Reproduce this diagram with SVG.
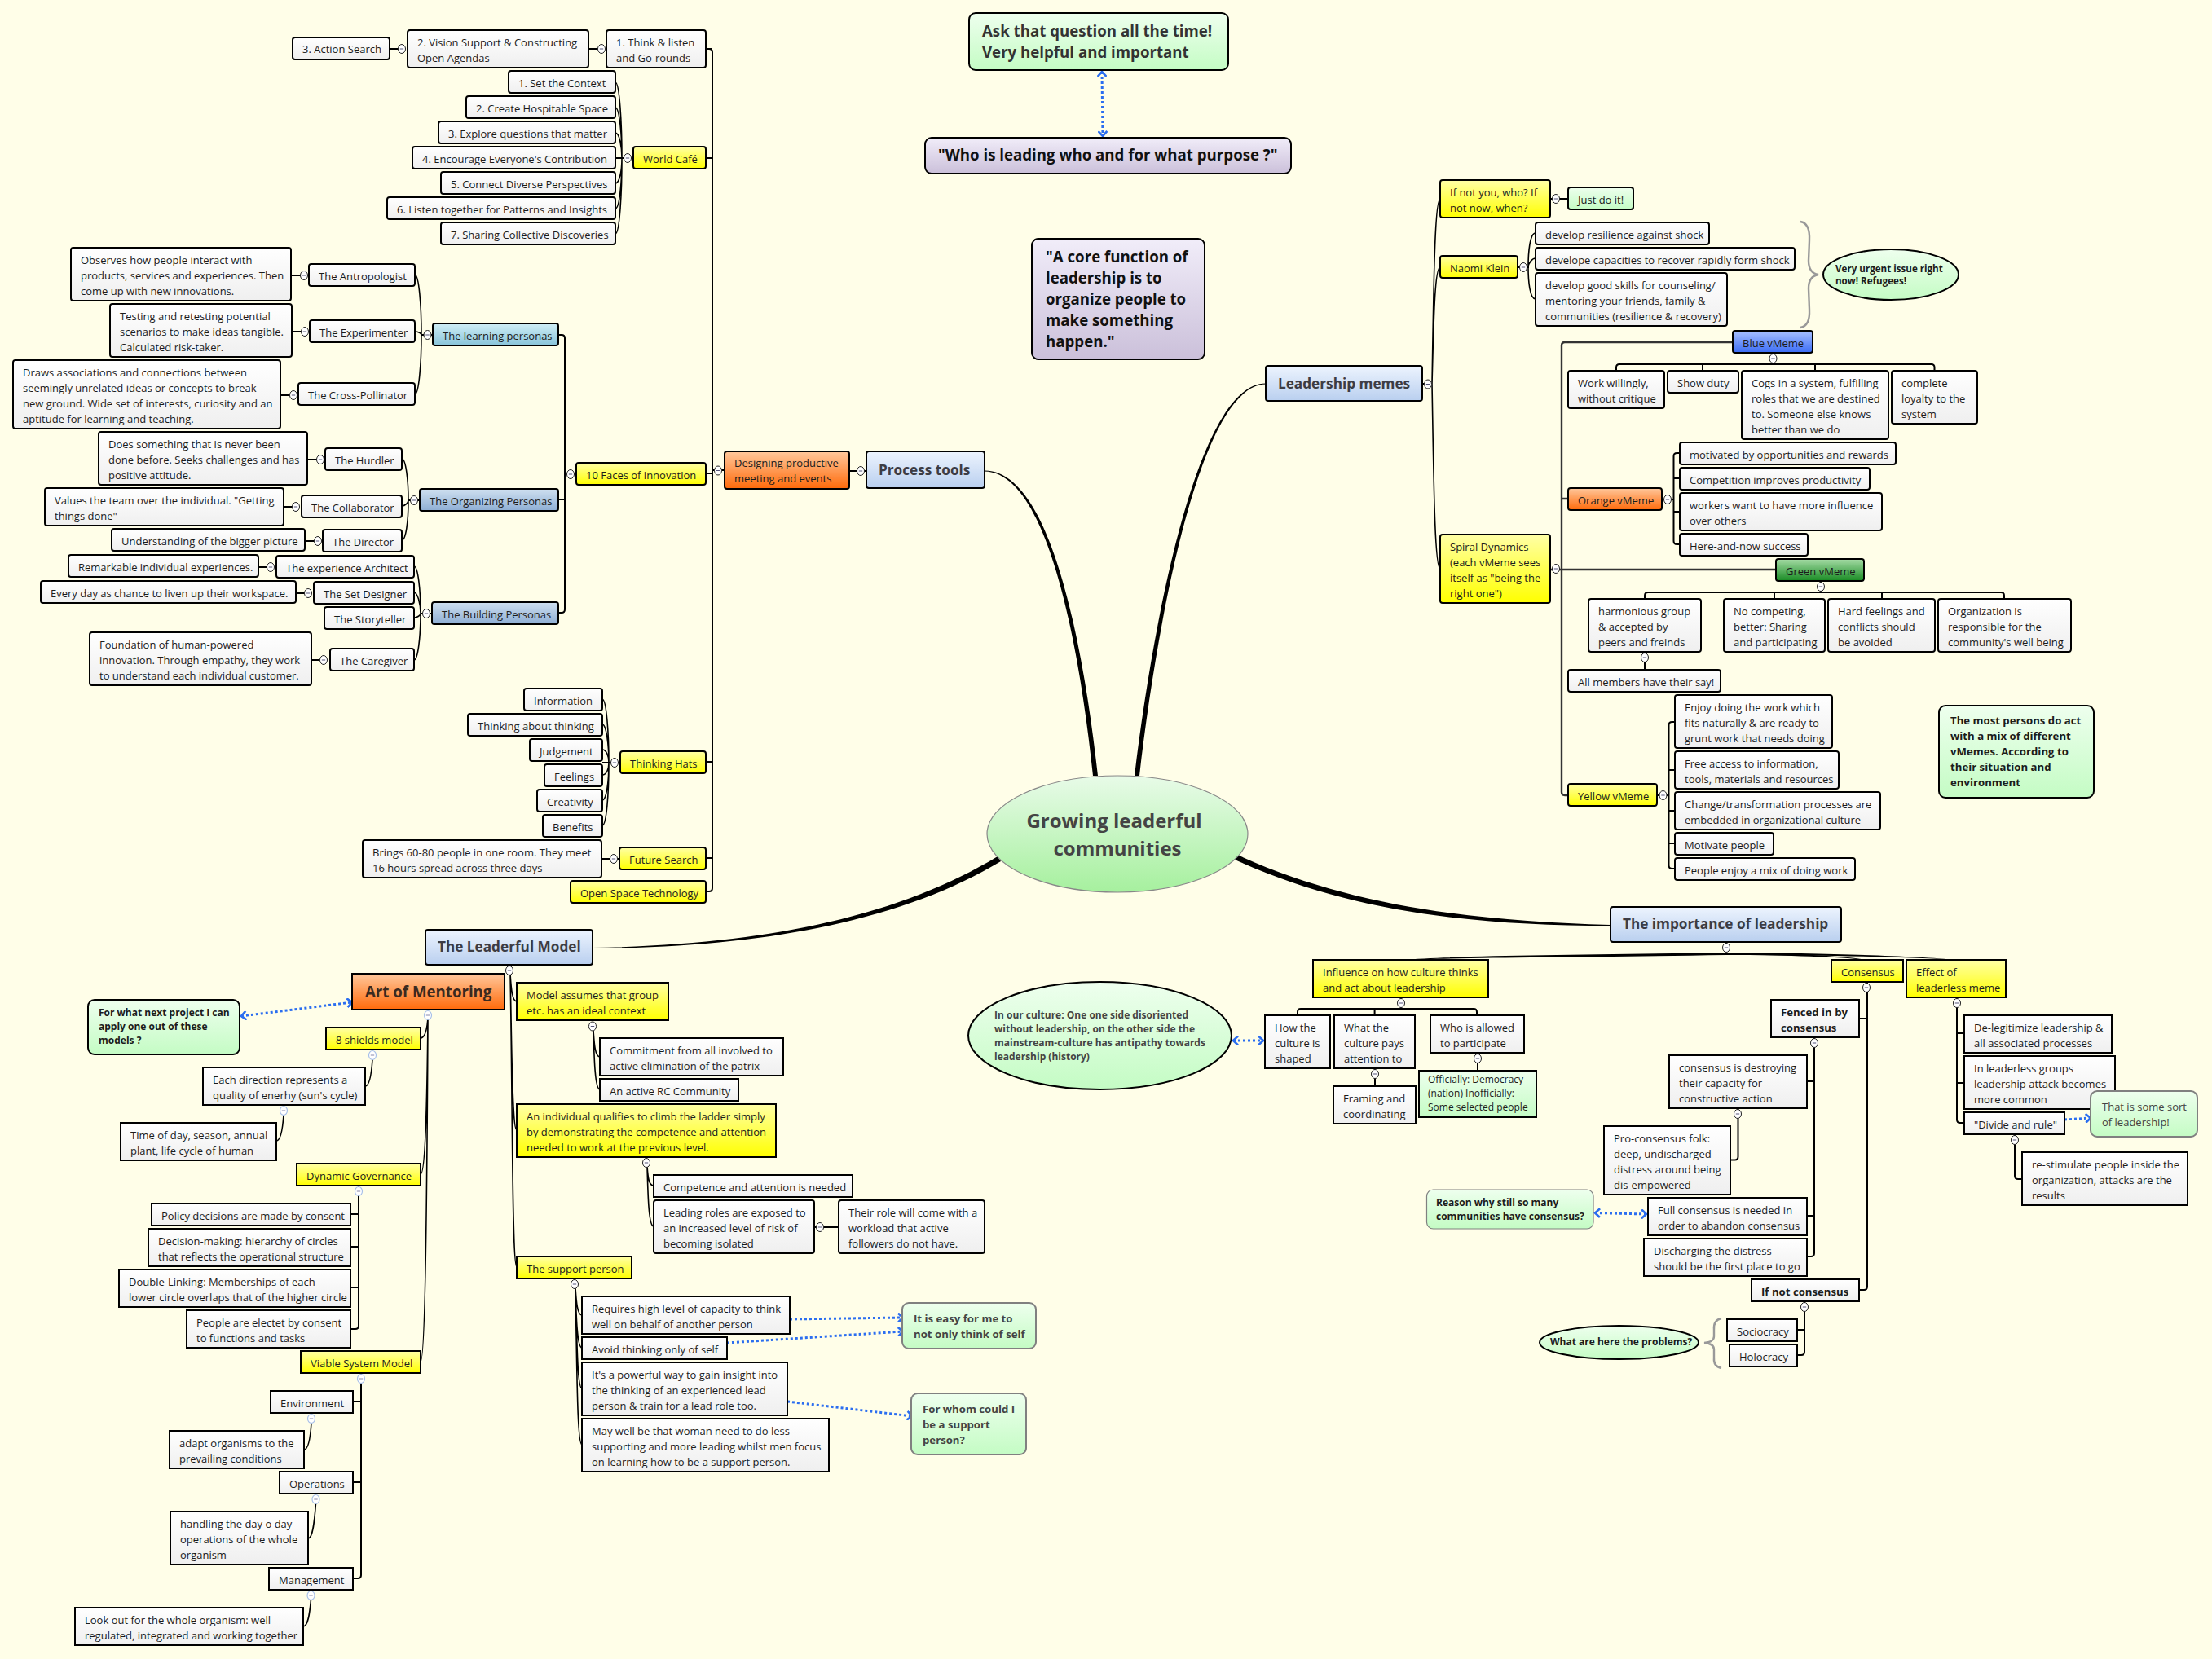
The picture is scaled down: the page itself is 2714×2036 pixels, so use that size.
<svg xmlns="http://www.w3.org/2000/svg" width="2714" height="2036" viewBox="0 0 2714 2036">
<style>
text{font-family:"Open Sans","Noto Sans",sans-serif;font-size:13px;fill:#1c1c1c;transform:translateY(-0.7px)}
.b{font-weight:700;font-size:13.2px}
.big{font-size:17.2px;font-weight:700;fill:#3c3c44}
.q{font-size:18.67px;font-weight:700;fill:#111}
.t12{font-size:12px}
.t11{font-size:11.6px}
.g5{fill:#444}
rect{stroke:#000;stroke-width:2;rx:3px}
rect.s{rx:0}
.gr{fill:url(#gr)}.ye{fill:url(#ye)}.or{fill:url(#or)}.bl{fill:url(#bl)}.le{fill:url(#le)}.og{fill:url(#og)}.gn{fill:url(#gn)}.pu{fill:url(#pu)}.vb{fill:url(#vb)}.vg{fill:url(#vg)}
.thin{stroke:#808080;stroke-width:1.2;rx:8px}.mid{stroke:#808080;stroke-width:2;rx:8px}.r8{rx:8px}
.c{fill:none;stroke:#000;stroke-width:1.6}
.e{fill:none;stroke:#000;stroke-width:2}
.h{fill:none;stroke:#333;stroke-width:2.4}
.f{fill:#000;stroke:none}
.d{fill:none;stroke:#2b6ef0;stroke-width:3;stroke-dasharray:3 3}
.br{fill:none;stroke:#999;stroke-width:2.4}
</style>
<defs>
<linearGradient id="gr" x1="0" y1="0" x2="0" y2="1"><stop offset="0" stop-color="#ffffff"/><stop offset="1" stop-color="#efefef"/></linearGradient>
<linearGradient id="ye" x1="0" y1="0" x2="0" y2="1"><stop offset="0" stop-color="#ffffa6"/><stop offset="1" stop-color="#ffff00"/></linearGradient>
<linearGradient id="or" x1="0" y1="0" x2="0" y2="1"><stop offset="0" stop-color="#ffc89c"/><stop offset="1" stop-color="#ff6a0a"/></linearGradient>
<linearGradient id="bl" x1="0" y1="0" x2="0" y2="1"><stop offset="0" stop-color="#edf4fe"/><stop offset="1" stop-color="#b9cfef"/></linearGradient>
<linearGradient id="le" x1="0" y1="0" x2="0" y2="1"><stop offset="0" stop-color="#d0eef6"/><stop offset="1" stop-color="#88c4da"/></linearGradient>
<linearGradient id="og" x1="0" y1="0" x2="0" y2="1"><stop offset="0" stop-color="#cfe0f0"/><stop offset="1" stop-color="#8eaed4"/></linearGradient>
<linearGradient id="gn" x1="0" y1="0" x2="0" y2="1"><stop offset="0" stop-color="#eeffee"/><stop offset="1" stop-color="#c4fcc4"/></linearGradient>
<linearGradient id="pu" x1="0" y1="0" x2="0" y2="1"><stop offset="0" stop-color="#f1edf9"/><stop offset="1" stop-color="#cbc0da"/></linearGradient>
<linearGradient id="vb" x1="0" y1="0" x2="0" y2="1"><stop offset="0" stop-color="#a8c0ff"/><stop offset="1" stop-color="#3a6cf5"/></linearGradient>
<linearGradient id="vg" x1="0" y1="0" x2="0" y2="1"><stop offset="0" stop-color="#a6dca6"/><stop offset="1" stop-color="#178a22"/></linearGradient>
<linearGradient id="ce" x1="0" y1="0" x2="0" y2="1"><stop offset="0" stop-color="#e8fbe8"/><stop offset="1" stop-color="#a6f09e"/></linearGradient>
<marker id="a" viewBox="0 0 8 10" refX="6" refY="5" markerWidth="9.6" markerHeight="12" markerUnits="userSpaceOnUse" orient="auto-start-reverse"><path d="M1 0.5L6 5L1 9.5" fill="none" stroke="#2b6ef0" stroke-width="2.2"/></marker>
<g id="k"><ellipse rx="4.5" ry="5.5" fill="#fff" stroke="#222" stroke-width="1"/><path d="M-2.2 0H2.2" stroke="#557" stroke-width="1"/></g>
<g id="k2"><ellipse rx="4.5" ry="5.5" fill="#fff" stroke="#a8c0e8" stroke-width="1.2"/><path d="M-2.2 0H2.2" stroke="#88a" stroke-width="1"/></g>
</defs>
<rect x="-2" y="-2" width="2718" height="2040" style="fill:#fffee8;stroke:none;rx:0"/>

<g id="connectors">
<!-- central -->
<path class="f" d="M1208 578.500C1287 579.500 1325 800 1341 952L1347 952C1330 800 1291 577 1208 577.500Z"/>
<path class="f" d="M1553 470.500C1470 470 1415 760 1392 952L1398 952C1420 760 1473 472 1553 471.500Z"/>
<path class="f" d="M727 1163C950 1160 1110 1120 1224 1051L1228 1057C1115 1125 950 1163 727 1164Z"/>
<path class="f" d="M1976 1135C1800 1130 1650 1110 1516 1048L1513 1054C1650 1117 1800 1136 1976 1136Z"/>
<!-- process tools -->
<path class="e" d="M1042 578H1063M889 577H874M478 60H493M722 60H738M874 60H866"/>
<path class="e" d="M866 60H870Q874 60 874 64V1090Q874 1094 870 1094H866M866 194H874M866 581H874M866 935H874M866 1053H874"/>
<path class="e" d="M755 194H777"/>
<path class="c" d="M755 101C760 101 763 150 763 194M755 132C760 132 763 165 763 194M755 163C760 163 763 180 763 194M755 194H763M755 225C760 225 763 210 763 194M755 256C760 256 763 225 763 194M755 287C760 287 763 240 763 194"/>
<path class="e" d="M357 338H373M358 407H374M344 485H360M377 564H393M348 622H363M374 664H390M317 696H332M363 728H378M382 810H397"/>
<path class="e" d="M517 411H531M501 614H515M516 753H530M685 411H689Q693 411 693 415V748Q693 752 689 752H685M685 613H693M693 582H707"/>
<path class="c" d="M509 337C514 337 517 375 517 411M509 407C513 407 517 409 517 411M509 484C514 484 517 445 517 411"/>
<path class="c" d="M493 563C498 563 501 590 501 614M493 621C497 621 501 617 501 614M493 663C498 663 501 640 501 614"/>
<path class="c" d="M508 695C513 695 516 725 516 753M508 727C512 727 516 740 516 753M508 758C512 758 516 755 516 753M508 810C513 810 516 780 516 753"/>
<path class="e" d="M739 936H761M738 1054H760"/>
<path class="c" d="M739 858C744 858 747 900 747 936M739 889C744 889 747 915 747 936M739 920C744 920 747 928 747 936M739 951C744 951 747 944 747 936M739 982C744 982 747 960 747 936M739 1013C744 1013 747 975 747 936"/>
<!-- leadership memes -->
<path class="e" d="M1745 471H1752"/>
<path class="c" d="M1767 244C1760 244 1759 360 1757 471M1767 328C1760 328 1759 400 1757 471M1767 698C1760 698 1759 580 1757 471"/>
<path class="e" d="M1902 244H1924M1862 328H1876"/>
<path class="c" d="M1884 286C1877 286 1875 310 1875 328M1884 317C1880 317 1875 323 1875 328M1884 367C1877 367 1875 345 1875 328"/>
<path class="h" d="M2126 420H1920Q1916 420 1916 424V972Q1916 976 1920 976H1924M1916 612H1924M1902 699H2179"/>
<path class="e" d="M2175.500 445V447M1983 454V451Q1983 447 1987 447H2369.500Q2373.500 447 2373.500 451V454M2089 454V447M2227 454V447"/>
<path class="e" d="M2039 613H2053.500M2061 556H2057.500Q2053.500 556 2053.500 560V664Q2053.500 668 2057.500 668H2061M2053.500 587H2061M2053.500 628H2061"/>
<path class="e" d="M2234 713V727M2018 734V731Q2018 727 2022 727H2455Q2459 727 2459 731V734M2177 734V727M2309 734V727"/>
<path class="e" d="M2018 800V822"/>
<path class="e" d="M2033 976H2047.500M2055 886H2051.500Q2047.500 886 2047.500 890V1062Q2047.500 1066 2051.500 1066H2055M2047.500 945H2055M2047.500 995H2055M2047.500 1035H2055"/>
<!-- importance -->
<path class="f" d="M2118 1169C1950 1172 1800 1172 1719 1178C1800 1175 1950 1175 2118 1172Z"/>
<path class="f" d="M2118 1169C2200 1170 2260 1173 2291 1178C2260 1175 2200 1172 2118 1172Z"/>
<path class="f" d="M2118 1169C2250 1170 2350 1173 2401 1178C2350 1175 2250 1172 2118 1172Z"/>
<path class="e" d="M2118 1156V1163M1719 1224V1231M1719 1231V1238M1592 1245V1242Q1592 1238 1596 1238H1808Q1812 1238 1812 1242V1245M1686.600 1245V1238M1687 1311V1333M1813 1292V1314"/>
<path class="e" d="M2291 1205V1579Q2291 1583 2287 1583H2281M2281 1250H2291"/>
<path class="e" d="M2226 1273V1538Q2226 1542 2222 1542H2217M2217 1327H2226M2217 1492H2226"/>
<path class="e" d="M2132.500 1360V1419.500Q2132.500 1423.500 2128.500 1423.500H2123"/>
<path class="e" d="M2214 1597V1659Q2214 1663 2210 1663H2205M2205 1632H2214"/>
<path class="e" d="M2401 1224V1374Q2401 1378 2405 1378H2410M2401 1268H2410M2401 1329H2410"/>
<path class="e" d="M2472 1392V1443Q2472 1447 2476 1447H2481"/>
<!-- leaderful -->
<path class="e" d="M625 1184V1191"/>
<path class="c" d="M634 1229C628 1229 627 1210 626 1195M634 1387C628 1387 628 1280 626 1195M634 1555C628 1555 629 1350 626 1195"/>
<path class="c" d="M736 1297C730 1297 729 1280 728 1264M736 1337C730 1337 729 1300 728 1264"/>
<path class="c" d="M802 1455C796 1455 795 1445 794 1431M802 1505C796 1505 795 1470 794 1431"/>
<path class="e" d="M999 1506H1029"/>
<path class="c" d="M714 1614C708 1614 707 1595 706 1580M714 1654C708 1654 707 1615 706 1580M714 1704C708 1704 708 1640 706 1580M714 1773C708 1773 708 1680 706 1580"/>
<!-- art of mentoring -->
<path class="c" d="M516 1274C522 1274 524 1262 525 1250M516 1441C522 1441 524 1350 525 1250M516 1671C522 1671 524 1450 525 1250"/>
<path class="c" d="M448 1333C454 1333 456 1315 457 1300M339 1400C345 1400 347 1383 348 1368"/>
<path class="e" d="M440 1455V1627Q440 1631 436 1631H430M430 1490H440M430 1530H440M430 1580H440"/>
<path class="e" d="M443 1685V1933Q443 1937 439 1937H433M433 1720H443M433 1819H443"/>
<path class="c" d="M373 1779C379 1779 381 1762 382 1746M378 1888C384 1888 386 1865 387.500 1845M372 1996C378 1996 380 1980 381.500 1963"/>
<!-- dotted -->
<path class="d" d="M1352 88L1353 167" marker-start="url(#a)" marker-end="url(#a)"/>
<path class="d" d="M1513 1277H1550" marker-start="url(#a)" marker-end="url(#a)"/>
<path class="d" d="M1957 1488.500L2020 1490" marker-start="url(#a)" marker-end="url(#a)"/>
<path class="d" d="M2533 1374L2565 1372" marker-end="url(#a)"/>
<path class="d" d="M296 1247L432 1230" marker-start="url(#a)" marker-end="url(#a)"/>
<path class="d" d="M969 1619L1108 1617" marker-end="url(#a)"/>
<path class="d" d="M892 1648L1108 1634" marker-end="url(#a)"/>
<path class="d" d="M966 1720L1119 1738" marker-end="url(#a)"/>
<!-- braces -->
<path class="br" d="M2209 272Q2221 274 2220 295L2219 320Q2219 335 2231 337Q2219 339 2219 354L2220 380Q2221 400 2209 402"/>
<path class="br" d="M2112 1618Q2102 1620 2103 1632L2103 1640Q2103 1647 2091 1648Q2103 1649 2103 1656L2103 1666Q2102 1677 2112 1679"/>
</g>

<g id="root"><ellipse cx="1371" cy="1023.500" rx="160" ry="71.500" fill="url(#ce)" stroke="#888" stroke-width="1.200"/><text x="1367" y="1017" text-anchor="middle" style="font-size:24px;font-weight:700;fill:#444">Growing leaderful</text><text x="1371" y="1051" text-anchor="middle" style="font-size:24px;font-weight:700;fill:#444">communities</text></g>

<g id="ask"><rect class="gn r8" x="1189" y="16" width="318" height="70"/><text x="1205" y="46" class="q" style="fill:#333">Ask that question all the time!<tspan x="1205" dy="26">Very helpful and important</tspan></text></g>
<g id="who"><rect class="pu r8" x="1135" y="169" width="449" height="44"/><text x="1151" y="198" class="q">"Who is leading who and for what purpose ?"</text></g>
<g id="core"><rect class="pu r8" x="1266" y="293" width="212" height="148"/><text x="1283" y="323" class="q">"A core function of<tspan x="1283" dy="26">leadership is to</tspan><tspan x="1283" dy="26">organize people to</tspan><tspan x="1283" dy="26">make something</tspan><tspan x="1283" dy="26">happen."</tspan></text></g>

<g id="process-tools"><rect class="bl" x="1063" y="554" width="145" height="45"/><text x="1078" y="584" class="big">Process tools</text></g>
<g id="designing"><rect class="or" x="889" y="554" width="153" height="46"/><text x="901" y="574">Designing productive<tspan x="901" dy="19">meeting and events</tspan></text></g>
<g id="think"><rect class="gr" x="744" y="37" width="122" height="46"/><text x="756" y="58">1. Think &amp; listen<tspan x="756" dy="19">and Go-rounds</tspan></text></g>
<g id="vision"><rect class="gr" x="500" y="37" width="222" height="46"/><text x="512" y="58">2. Vision Support &amp; Constructing<tspan x="512" dy="19">Open Agendas</tspan></text></g>
<g id="action"><rect class="gr" x="359" y="46" width="119" height="27"/><text x="371" y="66">3. Action Search</text></g>
<g id="world-cafe"><rect class="ye" x="777" y="180" width="89" height="27"/><text x="789" y="201">World Café</text></g>
<g id="wc1"><rect class="gr" x="624" y="87" width="131" height="27"/><text x="636" y="108">1. Set the Context</text></g>
<g id="wc2"><rect class="gr" x="572" y="118" width="183" height="27"/><text x="584" y="139">2. Create Hospitable Space</text></g>
<g id="wc3"><rect class="gr" x="538" y="149" width="217" height="27"/><text x="550" y="170">3. Explore questions that matter</text></g>
<g id="wc4"><rect class="gr" x="506" y="180" width="249" height="27"/><text x="518" y="201">4. Encourage Everyone's Contribution</text></g>
<g id="wc5"><rect class="gr" x="541" y="211" width="214" height="27"/><text x="553" y="232">5. Connect Diverse Perspectives</text></g>
<g id="wc6"><rect class="gr" x="475" y="242" width="280" height="27"/><text x="487" y="263">6. Listen together for Patterns and Insights</text></g>
<g id="wc7"><rect class="gr" x="541" y="273" width="214" height="27"/><text x="553" y="294">7. Sharing Collective Discoveries</text></g>

<g id="observes"><rect class="gr" x="87" y="304" width="270" height="65"/><text x="99" y="325">Observes how people interact with<tspan x="99" dy="19">products, services and experiences. Then</tspan><tspan x="99" dy="19">come up with new innovations.</tspan></text></g>
<g id="antropologist"><rect class="gr" x="379" y="324" width="130" height="27"/><text x="391" y="345">The Antropologist</text></g>
<g id="testing"><rect class="gr" x="135" y="373" width="223" height="65"/><text x="147" y="394">Testing and retesting potential<tspan x="147" dy="19">scenarios to make ideas tangible.</tspan><tspan x="147" dy="19">Calculated risk-taker.</tspan></text></g>
<g id="experimenter"><rect class="gr" x="380" y="393" width="129" height="27"/><text x="392" y="414">The Experimenter</text></g>
<g id="draws"><rect class="gr" x="16" y="442" width="328" height="84"/><text x="28" y="463">Draws associations and connections between<tspan x="28" dy="19">seemingly unrelated ideas or concepts to break</tspan><tspan x="28" dy="19">new ground. Wide set of interests, curiosity and an</tspan><tspan x="28" dy="19">aptitude for learning and teaching.</tspan></text></g>
<g id="cross"><rect class="gr" x="366" y="470" width="143" height="27"/><text x="378" y="491">The Cross-Pollinator</text></g>
<g id="learning"><rect class="le" x="531" y="397" width="154" height="27"/><text x="543" y="418">The learning personas</text></g>
<g id="does"><rect class="gr" x="121" y="530" width="256" height="65"/><text x="133" y="551">Does something that is never been<tspan x="133" dy="19">done before. Seeks challenges and has</tspan><tspan x="133" dy="19">positive attitude.</tspan></text></g>
<g id="hurdler"><rect class="gr" x="399" y="550" width="94" height="27"/><text x="411" y="571">The Hurdler</text></g>
<g id="values"><rect class="gr" x="55" y="599" width="293" height="46"/><text x="67" y="620">Values the team over the individual. "Getting<tspan x="67" dy="19">things done"</tspan></text></g>
<g id="collaborator"><rect class="gr" x="370" y="608" width="123" height="27"/><text x="382" y="629">The Collaborator</text></g>
<g id="understanding"><rect class="gr" x="137" y="649" width="237" height="27"/><text x="149" y="670">Understanding of the bigger picture</text></g>
<g id="director"><rect class="gr" x="396" y="650" width="97" height="27"/><text x="408" y="671">The Director</text></g>
<g id="organizing"><rect class="og" x="515" y="600" width="170" height="27"/><text x="527" y="621">The Organizing Personas</text></g>
<g id="remarkable"><rect class="gr" x="84" y="681" width="233" height="27"/><text x="96" y="702">Remarkable individual experiences.</text></g>
<g id="architect"><rect class="gr" x="339" y="682" width="169" height="27"/><text x="351" y="703">The experience Architect</text></g>
<g id="every"><rect class="gr" x="50" y="713" width="313" height="27"/><text x="62" y="734">Every day as chance to liven up their workspace.</text></g>
<g id="set-designer"><rect class="gr" x="385" y="714" width="123" height="27"/><text x="397" y="735">The Set Designer</text></g>
<g id="storyteller"><rect class="gr" x="398" y="745" width="110" height="27"/><text x="410" y="766">The Storyteller</text></g>
<g id="foundation"><rect class="gr" x="110" y="776" width="272" height="65"/><text x="122" y="797">Foundation of human-powered<tspan x="122" dy="19">innovation. Through empathy, they work</tspan><tspan x="122" dy="19">to understand each individual customer.</tspan></text></g>
<g id="caregiver"><rect class="gr" x="405" y="796" width="103" height="27"/><text x="417" y="817">The Caregiver</text></g>
<g id="building"><rect class="og" x="530" y="739" width="155" height="27"/><text x="542" y="760">The Building Personas</text></g>
<g id="faces"><rect class="ye" x="707" y="568" width="159" height="27"/><text x="719" y="589">10 Faces of innovation</text></g>
<g id="hat1"><rect class="gr" x="643" y="845" width="96" height="27"/><text x="655" y="866">Information</text></g>
<g id="hat2"><rect class="gr" x="574" y="876" width="165" height="27"/><text x="586" y="897">Thinking about thinking</text></g>
<g id="hat3"><rect class="gr" x="650" y="907" width="89" height="27"/><text x="662" y="928">Judgement</text></g>
<g id="hat4"><rect class="gr" x="668" y="938" width="71" height="27"/><text x="680" y="959">Feelings</text></g>
<g id="hat5"><rect class="gr" x="659" y="969" width="80" height="27"/><text x="671" y="990">Creativity</text></g>
<g id="hat6"><rect class="gr" x="666" y="1000" width="73" height="27"/><text x="678" y="1021">Benefits</text></g>
<g id="hats"><rect class="ye" x="761" y="922" width="105" height="27"/><text x="773" y="943">Thinking Hats</text></g>
<g id="brings"><rect class="gr" x="445" y="1031" width="293" height="46"/><text x="457" y="1052">Brings 60-80 people in one room. They meet<tspan x="457" dy="19">16 hours spread across three days</tspan></text></g>
<g id="future"><rect class="ye" x="760" y="1040" width="106" height="27"/><text x="772" y="1061">Future Search</text></g>
<g id="open"><rect class="ye" x="700" y="1081" width="166" height="27"/><text x="712" y="1102">Open Space Technology</text></g>

<g id="leadership-memes"><rect class="bl" x="1553" y="449" width="192" height="43"/><text x="1568" y="478" class="big">Leadership memes</text></g>
<g id="ifnot"><rect class="ye" x="1767" y="221" width="135" height="46"/><text x="1779" y="242">If not you, who? If<tspan x="1779" dy="19">not now, when?</tspan></text></g>
<g id="justdo"><rect class="gn" x="1924" y="230" width="80" height="27"/><text x="1936" y="251">Just do it!</text></g>
<g id="naomi"><rect class="ye" x="1767" y="314" width="95" height="27"/><text x="1779" y="335">Naomi Klein</text></g>
<g id="nk1"><rect class="gr" x="1884" y="273" width="213" height="27"/><text x="1896" y="294">develop resilience against shock</text></g>
<g id="nk2"><rect class="gr" x="1884" y="304" width="318" height="27"/><text x="1896" y="325">develope capacities to recover rapidly form shock</text></g>
<g id="nk3"><rect class="gr" x="1884" y="335" width="235" height="65"/><text x="1896" y="356">develop good skills for counseling/<tspan x="1896" dy="19">mentoring your friends, family &amp;</tspan><tspan x="1896" dy="19">communities (resilience &amp; recovery)</tspan></text></g>
<g id="urgent"><ellipse cx="2320" cy="337" rx="83" ry="31" fill="url(#gn)" stroke="#000" stroke-width="2"/><text x="2252" y="335" class="b t11">Very urgent issue right<tspan x="2252" dy="15">now! Refugees!</tspan></text></g>
<g id="blue"><rect class="vb" x="2126" y="406" width="98" height="27"/><text x="2138" y="427">Blue vMeme</text></g>
<g id="bl1"><rect class="gr" x="1924" y="455" width="118" height="46"/><text x="1936" y="476">Work willingly,<tspan x="1936" dy="19">without critique</tspan></text></g>
<g id="bl2"><rect class="gr" x="2046" y="455" width="87" height="27"/><text x="2058" y="476">Show duty</text></g>
<g id="bl3"><rect class="gr" x="2137" y="455" width="180" height="84"/><text x="2149" y="476">Cogs in a system, fulfilling<tspan x="2149" dy="19">roles that we are destined</tspan><tspan x="2149" dy="19">to. Someone else knows</tspan><tspan x="2149" dy="19">better than we do</tspan></text></g>
<g id="bl4"><rect class="gr" x="2321" y="455" width="105" height="65"/><text x="2333" y="476">complete<tspan x="2333" dy="19">loyalty to the</tspan><tspan x="2333" dy="19">system</tspan></text></g>
<g id="orange"><rect class="or" x="1924" y="599" width="115" height="27"/><text x="1936" y="620">Orange vMeme</text></g>
<g id="or1"><rect class="gr" x="2061" y="543" width="265" height="27"/><text x="2073" y="564">motivated by opportunities and rewards</text></g>
<g id="or2"><rect class="gr" x="2061" y="574" width="233" height="27"/><text x="2073" y="595">Competition improves productivity</text></g>
<g id="or3"><rect class="gr" x="2061" y="605" width="248" height="46"/><text x="2073" y="626">workers want to have more influence<tspan x="2073" dy="19">over others</tspan></text></g>
<g id="or4"><rect class="gr" x="2061" y="655" width="157" height="27"/><text x="2073" y="676">Here-and-now success</text></g>
<g id="spiral"><rect class="ye" x="1767" y="656" width="135" height="84"/><text x="1779" y="677">Spiral Dynamics<tspan x="1779" dy="19">(each vMeme sees</tspan><tspan x="1779" dy="19">itself as "being the</tspan><tspan x="1779" dy="19">right one")</tspan></text></g>
<g id="green"><rect class="vg" x="2179" y="686" width="108" height="27"/><text x="2191" y="707">Green vMeme</text></g>
<g id="gr1"><rect class="gr" x="1949" y="735" width="138" height="65"/><text x="1961" y="756">harmonious group<tspan x="1961" dy="19">&amp; accepted by</tspan><tspan x="1961" dy="19">peers and freinds</tspan></text></g>
<g id="gr2"><rect class="gr" x="2115" y="735" width="124" height="65"/><text x="2127" y="756">No competing,<tspan x="2127" dy="19">better: Sharing</tspan><tspan x="2127" dy="19">and participating</tspan></text></g>
<g id="gr3"><rect class="gr" x="2243" y="735" width="131" height="65"/><text x="2255" y="756">Hard feelings and<tspan x="2255" dy="19">conflicts should</tspan><tspan x="2255" dy="19">be avoided</tspan></text></g>
<g id="gr4"><rect class="gr" x="2378" y="735" width="163" height="65"/><text x="2390" y="756">Organization is<tspan x="2390" dy="19">responsible for the</tspan><tspan x="2390" dy="19">community's well being</tspan></text></g>
<g id="allmembers"><rect class="gr" x="1924" y="822" width="187" height="27"/><text x="1936" y="843">All members have their say!</text></g>
<g id="yellow"><rect class="ye" x="1924" y="962" width="109" height="27"/><text x="1936" y="983">Yellow vMeme</text></g>
<g id="ye1"><rect class="gr" x="2055" y="853" width="193" height="65"/><text x="2067" y="874">Enjoy doing the work which<tspan x="2067" dy="19">fits naturally &amp; are ready to</tspan><tspan x="2067" dy="19">grunt work that needs doing</tspan></text></g>
<g id="ye2"><rect class="gr" x="2055" y="922" width="201" height="46"/><text x="2067" y="943">Free access to information,<tspan x="2067" dy="19">tools, materials and resources</tspan></text></g>
<g id="ye3"><rect class="gr" x="2055" y="972" width="252" height="46"/><text x="2067" y="993">Change/transformation processes are<tspan x="2067" dy="19">embedded in organizational culture</tspan></text></g>
<g id="ye4"><rect class="gr" x="2055" y="1022" width="121" height="27"/><text x="2067" y="1043">Motivate people</text></g>
<g id="ye5"><rect class="gr" x="2055" y="1053" width="221" height="27"/><text x="2067" y="1074">People enjoy a mix of doing work</text></g>
<g id="most"><rect class="gn r8" x="2379" y="866" width="190" height="113"/><text x="2393" y="890" class="b">The most persons do act<tspan x="2393" dy="19">with a mix of different</tspan><tspan x="2393" dy="19">vMemes. According to</tspan><tspan x="2393" dy="19">their situation and</tspan><tspan x="2393" dy="19">environment</tspan></text></g>

<g id="importance"><rect class="bl" x="1976" y="1113" width="283" height="43"/><text x="1991" y="1141" class="big">The importance of leadership</text></g>
<g id="influence"><rect class="ye s" x="1611" y="1178" width="215" height="46"/><text x="1623" y="1199">Influence on how culture thinks<tspan x="1623" dy="19">and act about leadership</tspan></text></g>
<g id="how"><rect class="gr s" x="1552" y="1246" width="80" height="65"/><text x="1564" y="1267">How the<tspan x="1564" dy="19">culture is</tspan><tspan x="1564" dy="19">shaped</tspan></text></g>
<g id="what"><rect class="gr s" x="1637" y="1246" width="99" height="65"/><text x="1649" y="1267">What the<tspan x="1649" dy="19">culture pays</tspan><tspan x="1649" dy="19">attention to</tspan></text></g>
<g id="whoallowed"><rect class="gr s" x="1755" y="1246" width="115" height="46"/><text x="1767" y="1267">Who is allowed<tspan x="1767" dy="19">to participate</tspan></text></g>
<g id="framing"><rect class="gr s" x="1636" y="1333" width="101" height="46"/><text x="1648" y="1354">Framing and<tspan x="1648" dy="19">coordinating</tspan></text></g>
<g id="officially"><rect class="gn s" x="1741" y="1314" width="144" height="57"/><text x="1752" y="1330" class="t12">Officially: Democracy<tspan x="1752" dy="17">(nation) Inofficially:</tspan><tspan x="1752" dy="17">Some selected people</tspan></text></g>
<g id="culture"><ellipse cx="1349.500" cy="1271" rx="161.500" ry="66" fill="url(#gn)" stroke="#000" stroke-width="2"/><text x="1220" y="1251" class="b t12 g5">In our culture: One one side disoriented<tspan x="1220" dy="17">without leadership, on the other side the</tspan><tspan x="1220" dy="17">mainstream-culture has antipathy towards</tspan><tspan x="1220" dy="17">leadership (history)</tspan></text></g>
<g id="consensus"><rect class="ye s" x="2247" y="1178" width="88" height="27"/><text x="2259" y="1199">Consensus</text></g>
<g id="effect"><rect class="ye s" x="2339" y="1178" width="122" height="46"/><text x="2351" y="1199">Effect of<tspan x="2351" dy="19">leaderless meme</tspan></text></g>
<g id="fenced"><rect class="gr s" x="2173" y="1227" width="108" height="46"/><text x="2185" y="1248" class="b">Fenced in by<tspan x="2185" dy="19">consensus</tspan></text></g>
<g id="destroying"><rect class="gr s" x="2048" y="1295" width="169" height="65"/><text x="2060" y="1316">consensus is destroying<tspan x="2060" dy="19">their capacity for</tspan><tspan x="2060" dy="19">constructive action</tspan></text></g>
<g id="pro"><rect class="gr s" x="1968" y="1382" width="155" height="84"/><text x="1980" y="1403">Pro-consensus folk:<tspan x="1980" dy="19">deep, undischarged</tspan><tspan x="1980" dy="19">distress around being</tspan><tspan x="1980" dy="19">dis-empowered</tspan></text></g>
<g id="full"><rect class="gr s" x="2022" y="1470" width="195" height="46"/><text x="2034" y="1491">Full consensus is needed in<tspan x="2034" dy="19">order to abandon consensus</tspan></text></g>
<g id="discharging"><rect class="gr s" x="2017" y="1520" width="200" height="46"/><text x="2029" y="1541">Discharging the distress<tspan x="2029" dy="19">should be the first place to go</tspan></text></g>
<g id="reason"><rect class="gn thin" x="1750.500" y="1460" width="204.500" height="48"/><text x="1762" y="1481" class="b t12">Reason why still so many<tspan x="1762" dy="17">communities have consensus?</tspan></text></g>
<g id="ifnotcons"><rect class="gr s" x="2149" y="1570" width="132" height="27"/><text x="2161" y="1591" class="b">If not consensus</text></g>
<g id="socio"><rect class="gr s" x="2119" y="1619" width="86" height="27"/><text x="2131" y="1640">Sociocracy</text></g>
<g id="holo"><rect class="gr s" x="2122" y="1650" width="83" height="27"/><text x="2134" y="1671">Holocracy</text></g>
<g id="problems"><ellipse cx="1986.500" cy="1647.500" rx="97.500" ry="20.500" fill="url(#gn)" stroke="#000" stroke-width="2"/><text x="1902" y="1652" class="b t12">What are here the problems?</text></g>
<g id="delegit"><rect class="gr s" x="2410" y="1246" width="181" height="46"/><text x="2422" y="1267">De-legitimize leadership &amp;<tspan x="2422" dy="19">all associated processes</tspan></text></g>
<g id="leaderless"><rect class="gr s" x="2410" y="1296" width="185" height="65"/><text x="2422" y="1317">In leaderless groups<tspan x="2422" dy="19">leadership attack becomes</tspan><tspan x="2422" dy="19">more common</tspan></text></g>
<g id="divide"><rect class="gr s" x="2410" y="1365" width="123" height="27"/><text x="2422" y="1386">"Divide and rule"</text></g>
<g id="sort"><rect class="gn mid" x="2565" y="1339" width="131" height="56"/><text x="2579" y="1364" class="g5">That is some sort<tspan x="2579" dy="19">of leadership!</tspan></text></g>
<g id="restimulate"><rect class="gr s" x="2481" y="1414" width="203" height="65"/><text x="2493" y="1435">re-stimulate people inside the<tspan x="2493" dy="19">organization, attacks are the</tspan><tspan x="2493" dy="19">results</tspan></text></g>

<g id="leaderful"><rect class="bl" x="522" y="1141" width="205" height="43"/><text x="537" y="1169" class="big">The Leaderful Model</text></g>
<g id="art"><rect class="or s" x="432" y="1195" width="187" height="44"/><text x="448" y="1225" style="font-size:18.67px;font-weight:700;fill:#3a2a20">Art of Mentoring</text></g>
<g id="forwhat"><rect class="gn r8" x="108" y="1227" width="186" height="67"/><text x="121" y="1248" class="b t12">For what next project I can<tspan x="121" dy="17">apply one out of these</tspan><tspan x="121" dy="17">models ?</tspan></text></g>
<g id="shields"><rect class="ye s" x="400" y="1261" width="116" height="27"/><text x="412" y="1282">8 shields model</text></g>
<g id="each"><rect class="gr s" x="249" y="1310" width="199" height="46"/><text x="261" y="1331">Each direction represents a<tspan x="261" dy="19">quality of enerhy (sun's cycle)</tspan></text></g>
<g id="time"><rect class="gr s" x="148" y="1378" width="191" height="46"/><text x="160" y="1399">Time of day, season, annual<tspan x="160" dy="19">plant, life cycle of human</tspan></text></g>
<g id="dynamic"><rect class="ye s" x="364" y="1428" width="152" height="27"/><text x="376" y="1449">Dynamic Governance</text></g>
<g id="policy"><rect class="gr s" x="186" y="1477" width="244" height="27"/><text x="198" y="1498">Policy decisions are made by consent</text></g>
<g id="decision"><rect class="gr s" x="182" y="1508" width="248" height="46"/><text x="194" y="1529">Decision-making: hierarchy of circles<tspan x="194" dy="19">that reflects the operational structure</tspan></text></g>
<g id="double"><rect class="gr s" x="146" y="1558" width="284" height="46"/><text x="158" y="1579">Double-Linking: Memberships of each<tspan x="158" dy="19">lower circle overlaps that of the higher circle</tspan></text></g>
<g id="people"><rect class="gr s" x="229" y="1608" width="201" height="46"/><text x="241" y="1629">People are electet by consent<tspan x="241" dy="19">to functions and tasks</tspan></text></g>
<g id="viable"><rect class="ye s" x="369" y="1658" width="147" height="27"/><text x="381" y="1679">Viable System Model</text></g>
<g id="environment"><rect class="gr s" x="332" y="1707" width="101" height="27"/><text x="344" y="1728">Environment</text></g>
<g id="adapt"><rect class="gr s" x="208" y="1756" width="165" height="46"/><text x="220" y="1777">adapt organisms to the<tspan x="220" dy="19">prevailing conditions</tspan></text></g>
<g id="operations"><rect class="gr s" x="343" y="1806" width="90" height="27"/><text x="355" y="1827">Operations</text></g>
<g id="handling"><rect class="gr s" x="209" y="1855" width="169" height="65"/><text x="221" y="1876">handling the day o day<tspan x="221" dy="19">operations of the whole</tspan><tspan x="221" dy="19">organism</tspan></text></g>
<g id="management"><rect class="gr s" x="330" y="1924" width="103" height="27"/><text x="342" y="1945">Management</text></g>
<g id="lookout"><rect class="gr s" x="92" y="1973" width="280" height="46"/><text x="104" y="1994">Look out for the whole organism: well<tspan x="104" dy="19">regulated, integrated and working together</tspan></text></g>

<g id="model"><rect class="ye s" x="634" y="1206" width="186" height="46"/><text x="646" y="1227">Model assumes that group<tspan x="646" dy="19">etc. has an ideal context</tspan></text></g>
<g id="commitment"><rect class="gr s" x="736" y="1274" width="225" height="46"/><text x="748" y="1295">Commitment from all involved to<tspan x="748" dy="19">active elimination of the patrix</tspan></text></g>
<g id="rc"><rect class="gr s" x="736" y="1324" width="170" height="27"/><text x="748" y="1345">An active RC Community</text></g>
<g id="individual"><rect class="ye s" x="634" y="1355" width="318" height="65"/><text x="646" y="1376">An individual qualifies to climb the ladder simply<tspan x="646" dy="19">by demonstrating the competence and attention</tspan><tspan x="646" dy="19">needed to work at the previous level.</tspan></text></g>
<g id="competence"><rect class="gr s" x="802" y="1442" width="244" height="27"/><text x="814" y="1463">Competence and attention is needed</text></g>
<g id="leading"><rect class="gr" x="802" y="1473" width="197" height="65"/><text x="814" y="1494">Leading roles are exposed to<tspan x="814" dy="19">an increased level of risk of</tspan><tspan x="814" dy="19">becoming isolated</tspan></text></g>
<g id="their"><rect class="gr" x="1029" y="1473" width="179" height="65"/><text x="1041" y="1494">Their role will come with a<tspan x="1041" dy="19">workload that active</tspan><tspan x="1041" dy="19">followers do not have.</tspan></text></g>
<g id="support"><rect class="ye s" x="634" y="1542" width="141" height="27"/><text x="646" y="1563">The support person</text></g>
<g id="requires"><rect class="gr s" x="714" y="1591" width="255" height="46"/><text x="726" y="1612">Requires high level of capacity to think<tspan x="726" dy="19">well on behalf of another person</tspan></text></g>
<g id="avoid"><rect class="gr s" x="714" y="1641" width="178" height="27"/><text x="726" y="1662">Avoid thinking only of self</text></g>
<g id="powerful"><rect class="gr s" x="714" y="1672" width="252" height="65"/><text x="726" y="1693">It's a powerful way to gain insight into<tspan x="726" dy="19">the thinking of an experienced lead</tspan><tspan x="726" dy="19">person &amp; train for a lead role too.</tspan></text></g>
<g id="woman"><rect class="gr s" x="714" y="1741" width="303" height="65"/><text x="726" y="1762">May well be that woman need to do less<tspan x="726" dy="19">supporting and more leading whilst men focus</tspan><tspan x="726" dy="19">on learning how to be a support person.</tspan></text></g>
<g id="easy"><rect class="gn mid" x="1107" y="1599" width="164" height="56"/><text x="1121" y="1624" class="b g5">It is easy for me to<tspan x="1121" dy="19">not only think of self</tspan></text></g>
<g id="whom"><rect class="gn mid" x="1118" y="1710" width="141" height="75"/><text x="1132" y="1735" class="b g5">For whom could I<tspan x="1132" dy="19">be a support</tspan><tspan x="1132" dy="19">person?</tspan></text></g>

<g id="knobs">
<use href="#k" x="493" y="60"/><use href="#k" x="738" y="60"/><use href="#k" x="770" y="194"/><use href="#k" x="373" y="338"/><use href="#k" x="374" y="407"/><use href="#k" x="360" y="485"/><use href="#k" x="524.500" y="411"/><use href="#k" x="393" y="564"/><use href="#k" x="363" y="622"/><use href="#k" x="390" y="664"/><use href="#k" x="508" y="614"/><use href="#k" x="332" y="696"/><use href="#k" x="378" y="728"/><use href="#k" x="397" y="810"/><use href="#k" x="523" y="753"/><use href="#k" x="700" y="582"/><use href="#k" x="881" y="577.500"/><use href="#k" x="1056" y="578"/><use href="#k" x="754" y="936"/><use href="#k" x="753" y="1054"/>
<use href="#k" x="1752" y="471.500"/><use href="#k" x="1909" y="244"/><use href="#k" x="1869" y="328"/><use href="#k" x="2175.500" y="440"/><use href="#k" x="2046" y="613"/><use href="#k" x="1909" y="698"/><use href="#k" x="2234" y="720"/><use href="#k" x="2018" y="807"/><use href="#k" x="2040.500" y="976"/>
<use href="#k" x="2118" y="1163"/><use href="#k" x="1719" y="1231"/><use href="#k" x="1687" y="1318"/><use href="#k" x="1813" y="1299"/><use href="#k" x="2290" y="1212"/><use href="#k" x="2226" y="1280"/><use href="#k" x="2132" y="1367"/><use href="#k" x="2214" y="1604"/><use href="#k" x="2401" y="1231"/><use href="#k" x="2472" y="1399"/>
<use href="#k" x="625" y="1191"/><use href="#k" x="727" y="1259.500"/><use href="#k" x="793" y="1427"/><use href="#k" x="1006" y="1506"/><use href="#k" x="705" y="1576"/>
<use href="#k2" x="525" y="1246"/><use href="#k2" x="457" y="1295"/><use href="#k2" x="348" y="1363"/><use href="#k2" x="440" y="1462"/><use href="#k2" x="443" y="1692"/><use href="#k2" x="382" y="1741"/><use href="#k2" x="387.500" y="1840"/><use href="#k2" x="381.500" y="1958"/>
</g>
</svg>
